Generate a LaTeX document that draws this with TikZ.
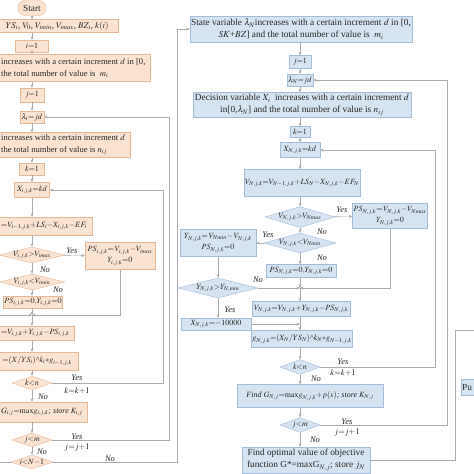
\documentclass[tikz,border=0pt]{standalone}
\usepackage{mathptmx}
\usepackage{fontspec}
\setmainfont{Liberation Serif}
\usetikzlibrary{shapes.geometric,arrows.meta}
\definecolor{peach}{HTML}{FBE3D1}
\definecolor{peachline}{HTML}{E5B898}
\definecolor{skyfill}{HTML}{D6E3F0}
\definecolor{skyline}{HTML}{A3BDD8}
\definecolor{linegray}{HTML}{ABABAB}

\begin{document}
\begin{tikzpicture}[x=1pt, y=-1pt,
    every node/.style={font=\fontsize{9.3}{12}\selectfont, text=black!85},
    eqn/.style={font=\fontsize{8}{11}\selectfont},
    obox/.style={draw=peachline, fill=peach, inner sep=1pt},
    bbox/.style={draw=skyline, fill=skyfill, inner sep=1pt},
    owide/.style={obox, anchor=west, align=left, inner xsep=5pt},
    odia/.style={diamond, draw=peachline, fill=peach, inner xsep=-40pt, inner ysep=-10pt, eqn},
    bdia/.style={diamond, draw=skyline, fill=skyfill, inner xsep=-40pt, inner ysep=-10pt, eqn},
    flow/.style={draw=linegray, -{Stealth[length=3.5pt, width=3pt]}},
    plain/.style={draw=linegray},
    tag/.style={font=\fontsize{8.5}{10}\selectfont\itshape}]
  \useasboundingbox (0,0) rectangle (474,474);

  % left column (stage i)
  \node[obox, rounded corners=7pt, minimum width=28pt, minimum height=15pt] (lst) at (32,8) {Start};
  \node[owide, font=\fontsize{8.8}{11}\selectfont, minimum width=122pt, minimum height=13pt] (lin) at (-4,26) {$YS_i$, $V_0$, $V_{imin}$, $V_{imax}$, $BZ_i$, $k(i)$};
  \node[obox, eqn, minimum width=33pt, minimum height=12pt] (li1) at (32,46) {$i{=}1$};
  \node[owide, font=\fontsize{8.6}{12}\selectfont, minimum height=27pt] (lm) at (-4,68) {increases with a certain increment $d$ in [0,\\the total number of value is \ $m_i$};
  \node[obox, eqn, minimum width=24pt, minimum height=14pt] (lj1) at (32,95) {$j{=}1$};
  \node[obox, eqn, minimum width=24pt, minimum height=12pt] (llam) at (32,117) {$\lambda_i{=}jd$};
  \node[owide, font=\fontsize{8.6}{12}\selectfont, minimum height=25pt] (ln) at (-4,145) {increases with a certain increment $d$\\the total number of value is $n_{ij}$};
  \node[obox, eqn, minimum width=25pt, minimum height=12pt] (lk1) at (32,169) {$k{=}1$};
  \node[obox, eqn, minimum width=35pt, minimum height=15pt] (lx) at (32,190) {$X_{i,j,k}{=}kd$};
  \node[owide, eqn, minimum width=86pt, minimum height=18pt] (lv) at (-4,226) {${=}V_{i-1,j,k}{+}LS_i{-}X_{i,j,k}{-}EF_i$};
  \node[odia, minimum width=66pt, minimum height=16pt] (ld1) at (32,255) {$V_{i,j,k}{>}V_{imax}$};
  \node[obox, eqn, align=center, minimum width=70pt, minimum height=27pt] (lps) at (120,256) {$PS_{i,j,k}{=}\,V_{i,j,k}{-}V_{imax}$\\$Y_{i,j,k}{=}0$};
  \node[odia, minimum width=66pt, minimum height=16pt] (ld2) at (32,282) {$V_{i,j,k}{<}V_{imin}$};
  \node[obox, eqn, minimum width=57pt, minimum height=12pt] (lps0) at (33,302) {$PS_{i,j,k}{=}0{,}Y_{i,j,k}{=}0$};
  \coordinate (ljn) at (32,315);
  \coordinate (lyo) at (-3,315);
  \node[owide, eqn, minimum width=76pt, minimum height=14pt] (lv2) at (-4,333) {${=}V_{i,j,k}{+}Y_{i,j,k}{-}PS_{i,j,k}$};
  \node[owide, eqn, minimum width=82pt, minimum height=18pt] (lg) at (-4,361) {${=}(X/YS_i)$\textasciicircum$k_i{*}g_{i-1,j,k}$};
  \node[odia, minimum width=40pt, minimum height=14pt] (ld3) at (32,383) {$k{<}n$};
  \node[owide, eqn, minimum width=91pt, minimum height=20pt] (lfg) at (-4,412) {$G_{i,j}{=}\mathrm{max}g_{i,j,k}$\textit{; store} $K_{i,j}$};
  \node[odia, minimum width=40pt, minimum height=14pt] (ld4) at (32,440) {$j{<}m$};
  \node[odia, minimum width=42pt, minimum height=14pt] (ld5) at (32,462) {$i{<}N{-}1$};
  \coordinate (lkx) at (163,0);
  \coordinate (ljx) at (169,0);
  \coordinate (lox) at (177,0);

  % middle column (stage N)
  \node[bbox, align=center, minimum width=220pt, minimum height=26pt] (st) at (301,29) {State variable $\lambda_N$increases with a certain increment $d$ in [0,\\$SK$+$BZ$] and the total number of value is \ $m_i$};
  \node[bbox, eqn, minimum width=22pt, minimum height=13pt] (cj1) at (300,62) {$j{=}1$};
  \node[bbox, eqn, minimum width=24pt, minimum height=12pt] (clam) at (300,80) {$\lambda_N{=}jd$};
  \node[bbox, align=center, minimum width=218pt, minimum height=25pt] (cdec) at (302,105) {Decision variable $X_i$ \ increases with a certain increment $d$\\in[0,$\lambda_N$] and the total number of value is $n_{ij}$};
  \node[bbox, eqn, minimum width=20pt, minimum height=11pt] (ck1) at (300,132) {$k{=}1$};
  \node[bbox, eqn, minimum width=40pt, minimum height=15pt] (cx) at (300,150) {$X_{N,j,k}{=}kd$};
  \node[bbox, eqn, minimum width=110pt, minimum height=27pt] (cv) at (302,183) {$V_{N,j,k}{=}V_{N-1,j,k}{+}LS_N{-}X_{N,j,k}{-}EF_N$};
  \node[bdia, minimum width=70pt, minimum height=21pt] (cd1) at (300,217) {$V_{N,j,k}{>}V_{Nmax}$};
  \node[bbox, eqn, align=center, minimum width=75pt, minimum height=25pt] (cps) at (390,216) {$PS_{N,j,k}{=}\,V_{N,j,k}{-}V_{Nmax}$\\$Y_{N,j,k}{=}0$};
  \node[bdia, minimum width=72pt, minimum height=20pt] (cd2) at (300,243) {$V_{N,j,k}{<}V_{Nmin}$};
  \node[bbox, eqn, align=center, minimum width=76pt, minimum height=27pt] (cy) at (218,243) {$Y_{N,j,k}{=}\,V_{Nmin}{-}\,V_{N,j,k}$\\$PS_{N,j,k}{=}0$};
  \node[bbox, eqn, minimum width=70pt, minimum height=13pt] (cps0) at (301,271) {$PS_{N,j,k}{=}0{,}Y_{N,j,k}{=}0$};
  \coordinate (cjn) at (300,288);
  \node[bdia, minimum width=80pt, minimum height=20pt] (cd3) at (218,288) {$Y_{N,j,k}{>}Y_{N,min}$};
  \node[bbox, eqn, minimum width=70pt, minimum height=12pt] (cxm) at (216,324) {$X_{N,j,k}{=}{-}10000$};
  \node[bbox, eqn, minimum width=98pt, minimum height=15pt] (cv2) at (301,309) {$V_{N,j,k}{=}V_{N,j,k}{+}Y_{N,j,k}{-}PS_{N,j,k}$};
  \node[bbox, eqn, minimum width=100pt, minimum height=17pt] (cg) at (302,339) {$g_{N,j,k}{=}(X_N/YS_N)$\textasciicircum$k_N{*}g_{N-1,j,k}$};
  \node[bdia, minimum width=40pt, minimum height=15pt] (cd4) at (300,367) {$k{<}n$};
  \node[bbox, eqn, minimum width=146pt, minimum height=23pt] (cfg) at (310,396) {\textit{Find} $G_{N,j}{=}\mathrm{max}g_{N,j,k}{+}p(x)$\textit{; store} $K_{N,j}$};
  \node[bdia, minimum width=40pt, minimum height=15pt] (cd5) at (300,425) {$j{<}m$};
  \node[bbox, align=center, minimum width=128pt, minimum height=26pt] (cfo) at (306,460) {Find optimal value of objective\\function G*=maxG$_{N,j}$; store $j_N$};
  \coordinate (ckx) at (435,0);
  \coordinate (cjx) at (447,0);
  \coordinate (cox) at (455,330);
  \coordinate (cend) at (476,330);

  % right column (cut off)
  \node[bbox, anchor=west, text width=20pt, align=left, minimum height=16pt] (pu) at (461,387) {Pu};

  % left column connectors
  \draw[flow] (lst) -- (lst |- lin.north);
  \draw[flow] (li1 |- lin.south) -- (li1);
  \draw[flow] (li1) -- (li1 |- lm.north);
  \draw[flow] (lj1 |- lm.south) -- (lj1);
  \draw[flow] (lj1) -- (llam);
  \draw[flow] (llam) -- (llam |- ln.north);
  \draw[flow] (lk1 |- ln.south) -- (lk1);
  \draw[flow] (lk1) -- (lx);
  \draw[flow] (lx) -- (lx |- lv.north);
  \draw[flow] (ld1 |- lv.south) -- (ld1);
  \draw[flow] (ld1) -- (ld2);
  \draw[flow] (ld2) -- (ld2 |- lps0.north);
  \draw[flow] (ld2 |- lps0.south) -- (ljn);
  \draw[flow] (ld1) -- (lps);
  \draw[flow] (lps) |- (ljn);
  \draw[flow] (lyo) -- (ljn);
  \draw[flow] (ljn) -- (ljn |- lv2.north);
  \draw[flow] (ld3 |- lv2.south) -- (ld3 |- lg.north);
  \draw[flow] (ld3 |- lg.south) -- (ld3);
  \draw[flow] (ld3) -- (ld3 |- lfg.north);
  \draw[flow] (ld4 |- lfg.south) -- (ld4);
  \draw[flow] (ld4) -- (ld5);
  \draw[flow] (ld3.east) -| (lkx |- lx.east) -- (lx.east);
  \draw[flow] (ld4.east) -| (ljx |- llam.east) -- (llam.east);
  \draw[flow] (ld5.east) -| (lox |- st.west) -- (st.west);
  \draw[plain] (ld5.west) -- (ld5.west -| lyo);
  \node[tag] (ly1) at (72,251) {Yes};
  \node[tag] (ln1) at (45,270) {No};
  \node[tag] (ln2) at (58,290) {No};
  \node[tag] (ly2) at (77,378) {Yes};
  \node[tag] (lk2) at (77,391) {$k{=}k{+}1$};
  \node[tag] (ln3) at (43,397) {No};
  \node[tag] (ly3) at (77,437) {Yes};
  \node[tag] (lj2) at (77,448) {$j{=}j{+}1$};
  \node[tag] (ln4) at (42,452) {No};
  \node[tag] (ln5) at (110,459) {No};

  % middle column connectors
  \draw[flow] (cj1 |- st.south) -- (cj1);
  \draw[flow] (cj1) -- (clam);
  \draw[flow] (clam) -- (clam |- cdec.north);
  \draw[flow] (ck1 |- cdec.south) -- (ck1);
  \draw[flow] (ck1) -- (cx);
  \draw[flow] (cx) -- (cx |- cv.north);
  \draw[flow] (cd1 |- cv.south) -- (cd1);
  \draw[flow] (cd1) -- (cd2);
  \draw[flow] (cd2) -- (cd2 |- cps0.north);
  \draw[flow] (cd2 |- cps0.south) -- (cjn);
  \draw[flow] (cd1) -- (cps);
  \draw[flow] (cps) |- (cjn);
  \draw[flow] (cd2) -- (cy);
  \draw[flow] (cy) -- (cd3);
  \draw[flow] (cd3) -- (cjn);
  \draw[flow] (cd3.south) -- (cd3.south |- cxm.north);
  \draw[flow] (cxm.east) -- (cxm.east -| cjn);
  \draw[flow] (cjn) -- (cjn |- cv2.north);
  \draw[flow] (cjn |- cv2.south) -- (cjn |- cg.north);
  \draw[flow] (cd4 |- cg.south) -- (cd4);
  \draw[flow] (cd4) -- (cd4 |- cfg.north);
  \draw[flow] (cd5 |- cfg.south) -- (cd5);
  \draw[flow] (cd5) -- (cd5 |- cfo.north);
  \draw[flow] (cd4.east) -| (ckx |- cx.east) -- (cx.east);
  \draw[flow] (cd5.east) -| (cjx |- clam.east) -- (clam.east);
  \draw[plain] (cfo.east) -| (cox) -- (cend);
  \node[tag] (cy1) at (342,210) {Yes};
  \node[tag] (cn1) at (322,232) {No};
  \node[tag] (cy2) at (268,235) {Yes};
  \node[tag] (cn2) at (322,258) {No};
  \node[tag] (cn3) at (258,280) {No};
  \node[tag] (cy3) at (230,310) {Yes};
  \node[tag] (cy4) at (343,362) {Yes};
  \node[tag] (ck2) at (343,373) {$k{=}k{+}1$};
  \node[tag] (cn4) at (316,379) {No};
  \node[tag] (cy5) at (347,422) {Yes};
  \node[tag] (cj2) at (347,433) {$j{=}j{+}1$};
  \node[tag] (cn5) at (315,440) {No};
\end{tikzpicture}
\end{document}
